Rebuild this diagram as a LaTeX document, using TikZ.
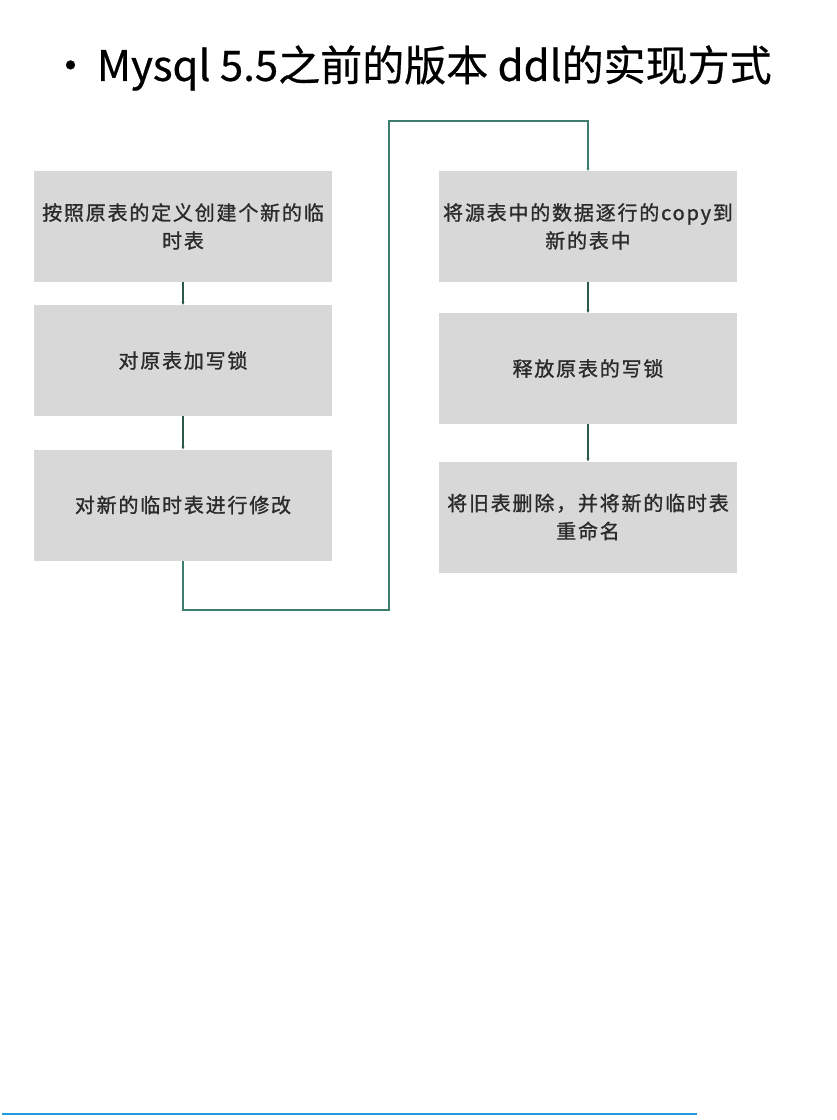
\documentclass[tikz,border=0pt]{standalone}
\usepackage{fontspec}
\setmainfont{Noto Sans CJK SC}
\newfontfamily\boxfont[LetterSpace=9,FakeBold=1.2]{Noto Sans CJK SC}
\newfontfamily\titlefont[FakeBold=0.6]{Noto Sans CJK SC}
\usetikzlibrary{arrows.meta}
\definecolor{boxgray}{HTML}{D8D8D8}
\definecolor{txtgray}{HTML}{2B2B2B}
\definecolor{teal}{HTML}{3C7D6E}
\definecolor{lineblue}{HTML}{1E9BE0}
\tikzset{
  stepbox/.style={fill=boxgray, draw=none, minimum width=298pt, minimum height=111pt, inner sep=0pt,
    align=center, text=txtgray, font=\boxfont\fontsize{20pt}{28pt}\selectfont},
  flow/.style={draw=teal!70!black, line width=1.2pt, -{Stealth[length=3pt,width=3pt]}},
  longflow/.style={draw=teal, line width=1.5pt, -{Stealth[length=3pt,width=3pt]}}
}
\begin{document}
\begin{tikzpicture}[x=1pt,y=-1pt]
\useasboundingbox (0,0) rectangle (837,1120);
\fill[white] (0,0) rectangle (837,1120);
\node[anchor=west, text=black, font=\titlefont\fontsize{42pt}{48pt}\selectfont] (title) at (46,68) {•\hspace{-4pt} Mysql 5.5之前的版本 ddl的实现方式};
\node[stepbox] (b1) at (183,226.5) {按照原表的定义创建个新的临\\时表};
\node[stepbox] (b2) at (183,360.5) {对原表加写锁};
\node[stepbox] (b3) at (183,505) {对新的临时表进行修改};
\node[stepbox] (b4) at (588,226.5) {将源表中的数据逐行的copy到\\新的表中};
\node[stepbox] (b5) at (588,368.5) {释放原表的写锁};
\node[stepbox] (b6) at (588,517) {将旧表删除，并将新的临时表\\重命名};
\draw[flow] (b1) -- (b2);
\draw[flow] (b2) -- (b3);
\coordinate (c1) at (183,610);
\coordinate (c2) at (389,610);
\coordinate (c3) at (389,121);
\coordinate (c4) at (588,121);
\draw[longflow] (b3.south) -- (c1) -- (c2) -- (c3) -- (c4) -- (b4.north);
\draw[flow] (b4) -- (b5);
\draw[flow] (b5) -- (b6);
\coordinate (l1) at (2,1114);
\coordinate (l2) at (697,1114);
\draw[lineblue, line width=2.2pt] (l1) -- (l2);
\end{tikzpicture}
\end{document}
